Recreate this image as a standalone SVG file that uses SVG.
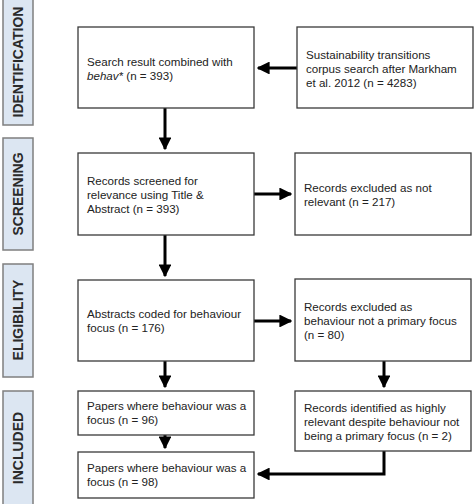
<svg xmlns="http://www.w3.org/2000/svg" width="474" height="504" viewBox="0 0 474 504">
<defs>
<style>
.box{fill:#fff;stroke:#3a3a3a;stroke-width:1.3}
.side{fill:#dce6f2;stroke:#7f7f7f;stroke-width:1.5}
.t{font-family:"Liberation Sans",Arial,sans-serif;font-size:11.6px;fill:#222}
.s{font-family:"Liberation Sans",Arial,sans-serif;font-size:14px;font-weight:bold;fill:#2a2a2a}
.c{fill:none;stroke:#000;stroke-width:3}
</style>
<marker id="ah" viewBox="0 0 10 10" refX="9" refY="5" markerWidth="4.3" markerHeight="4.3" orient="auto" markerUnits="strokeWidth">
<path d="M0,0 L10,5 L0,10 z" fill="#000"/>
</marker>
</defs>
<rect width="474" height="504" fill="#fff"/>
<g id="side-identification">
<rect class="side" x="3" y="-2" width="30" height="127"/>
<text class="s" transform="translate(23,62) rotate(-90)" text-anchor="middle">IDENTIFICATION</text>
</g>
<g id="side-screening">
<rect class="side" x="3" y="138" width="30" height="112"/>
<text class="s" transform="translate(23,194) rotate(-90)" text-anchor="middle">SCREENING</text>
</g>
<g id="side-eligibility">
<rect class="side" x="3" y="264" width="30" height="113"/>
<text class="s" transform="translate(23,320) rotate(-90)" text-anchor="middle">ELIGIBILITY</text>
</g>
<g id="side-included">
<rect class="side" x="3" y="391" width="30" height="115"/>
<text class="s" transform="translate(23,448) rotate(-90)" text-anchor="middle">INCLUDED</text>
</g>
<g id="connectors">
<path class="c" d="M165,108 V149" marker-end="url(#ah)"/>
<path class="c" d="M297,68 H258" marker-end="url(#ah)"/>
<path class="c" d="M254,194 H291" marker-end="url(#ah)"/>
<path class="c" d="M165,235 V276" marker-end="url(#ah)"/>
<path class="c" d="M254,321 H291" marker-end="url(#ah)"/>
<path class="c" d="M165,361 V387" marker-end="url(#ah)"/>
<path class="c" d="M384,361 V387" marker-end="url(#ah)"/>
<path class="c" d="M165,435 V448" marker-end="url(#ah)"/>
<path class="c" d="M384,451 V474 H258" marker-end="url(#ah)"/>
</g>
<g id="n-search">
<rect class="box" x="78" y="27" width="176" height="81"/>
<text class="t" x="87" y="66">Search result combined with</text>
<text class="t" x="87" y="80"><tspan font-style="italic">behav*</tspan> (n = 393)</text>
</g>
<g id="n-corpus">
<rect class="box" x="297" y="27" width="176" height="81"/>
<text class="t" x="306" y="59">Sustainability transitions</text>
<text class="t" x="306" y="73">corpus search after Markham</text>
<text class="t" x="306" y="87">et al. 2012 (n = 4283)</text>
</g>
<g id="n-screened">
<rect class="box" x="78" y="153" width="176" height="82"/>
<text class="t" x="87" y="185">Records screened for</text>
<text class="t" x="87" y="199">relevance using Title &amp;</text>
<text class="t" x="87" y="213">Abstract (n = 393)</text>
</g>
<g id="n-excluded1">
<rect class="box" x="295" y="153" width="176" height="82"/>
<text class="t" x="304" y="192">Records excluded as not</text>
<text class="t" x="304" y="206">relevant (n = 217)</text>
</g>
<g id="n-abstracts">
<rect class="box" x="78" y="280" width="176" height="81"/>
<text class="t" x="87" y="318">Abstracts coded for behaviour</text>
<text class="t" x="87" y="332">focus (n = 176)</text>
</g>
<g id="n-excluded2">
<rect class="box" x="295" y="279" width="176" height="82"/>
<text class="t" x="304" y="311">Records excluded as</text>
<text class="t" x="304" y="325">behaviour not a primary focus</text>
<text class="t" x="304" y="339">(n = 80)</text>
</g>
<g id="n-papers96">
<rect class="box" x="78" y="391" width="176" height="44"/>
<text class="t" x="87" y="410">Papers where behaviour was a</text>
<text class="t" x="87" y="424">focus (n = 96)</text>
</g>
<g id="n-relevant">
<rect class="box" x="295" y="391" width="176" height="60"/>
<text class="t" x="304" y="412">Records identified as highly</text>
<text class="t" x="304" y="426">relevant despite behaviour not</text>
<text class="t" x="304" y="440">being a primary focus (n = 2)</text>
</g>
<g id="n-papers98">
<rect class="box" x="78" y="452" width="176" height="46"/>
<text class="t" x="87" y="472">Papers where behaviour was a</text>
<text class="t" x="87" y="486">focus (n = 98)</text>
</g>
</svg>
